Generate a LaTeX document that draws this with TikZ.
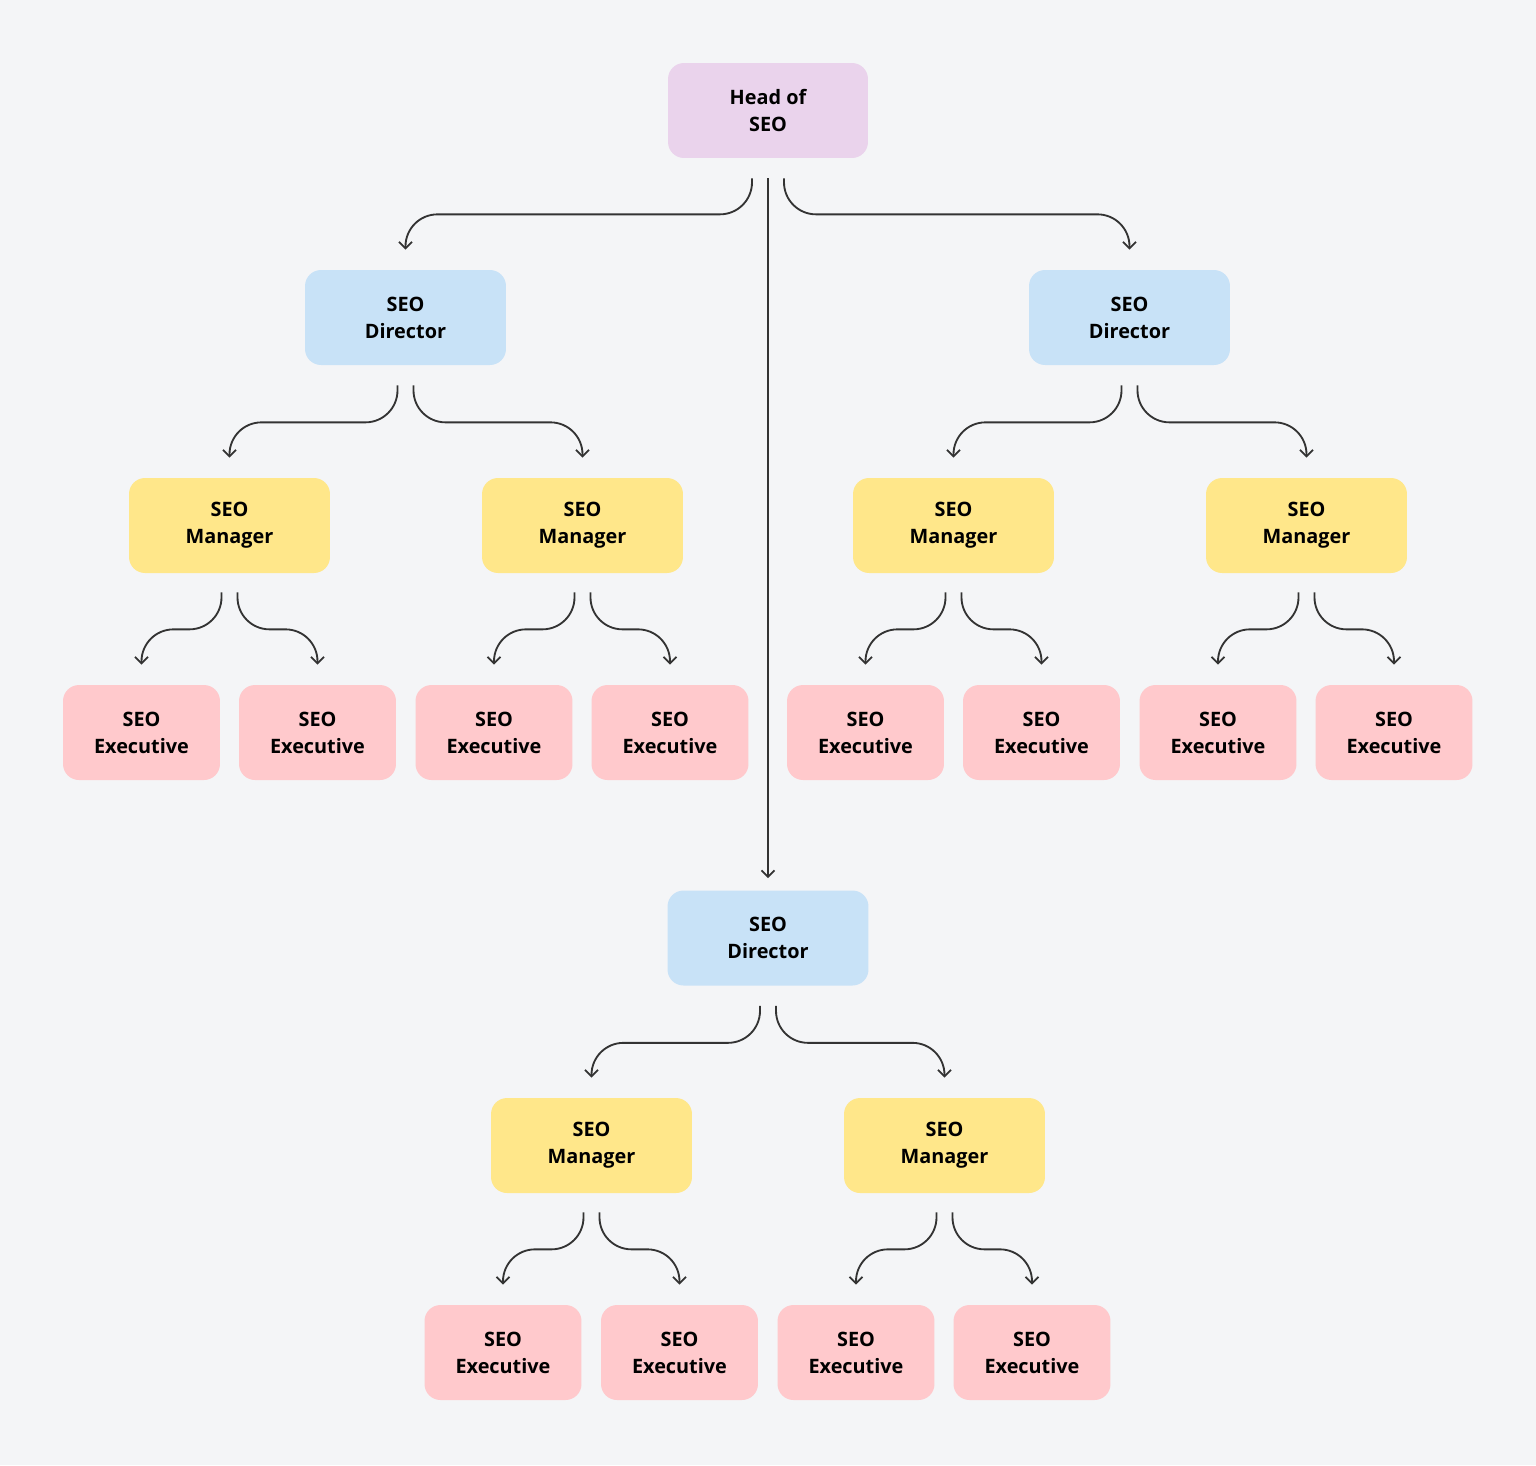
\documentclass[tikz,border=0pt]{standalone}
\usepackage{fontspec}
\setmainfont{Open Sans}
\usetikzlibrary{
    positioning,
    arrows.meta,
    calc
}
\definecolor{bgcol}{HTML}{F4F5F7}
\definecolor{headcol}{HTML}{EAD3EC}
\definecolor{dircol}{HTML}{C8E2F7}
\definecolor{mgrcol}{HTML}{FFE78A}
\definecolor{execol}{HTML}{FFC9CC}
\definecolor{linecol}{HTML}{333333}

\begin{document}
\begin{tikzpicture}[
    x=0.02cm, y=-0.02cm,
    every node/.style={font=\fontsize{11.3}{15.4}\selectfont\bfseries, text=black},
    box/.style={
        rectangle,
        rounded corners=0.32cm,
        align=center,
        minimum height=1.9cm,
        inner sep=0pt
    },
    head/.style={box, fill=headcol, minimum width=4cm},
    director/.style={box, fill=dircol, minimum width=4.02cm},
    manager/.style={box, fill=mgrcol, minimum width=4.02cm},
    exec/.style={box, fill=execol, minimum width=3.14cm},
    link/.style={-{Straight Barb[length=1.3mm, width=2.6mm]}, line width=1.05pt,
        draw=linecol, rounded corners=0.64cm}
]

% ---------- Background ----------
\fill[bgcol] (0,0) rectangle (1536,1465);

% ---------- Top ----------
\node[head] (hd) at (768,110.5) {Head of\\SEO};

% ---------- Directors ----------
\node[director] (dl) at (405.5,317.5) {SEO\\Director};
\node[director] (dr) at (1129.5,317.5) {SEO\\Director};
\node[director] (db) at (768,938) {SEO\\Director};

% ---------- Managers ----------
\node[manager] (m1) at (229.5,525.5) {SEO\\Manager};
\node[manager] (m2) at (582.5,525.5) {SEO\\Manager};
\node[manager] (m3) at (953.5,525.5) {SEO\\Manager};
\node[manager] (m4) at (1306.5,525.5) {SEO\\Manager};
\node[manager] (m5) at (591.5,1145.5) {SEO\\Manager};
\node[manager] (m6) at (944.5,1145.5) {SEO\\Manager};

% ---------- Executives ----------
\node[exec] (e1) at (141.5,732.5) {SEO\\Executive};
\node[exec] (e2) at (317.5,732.5) {SEO\\Executive};
\node[exec] (e3) at (494,732.5) {SEO\\Executive};
\node[exec] (e4) at (670,732.5) {SEO\\Executive};
\node[exec] (e5) at (865.5,732.5) {SEO\\Executive};
\node[exec] (e6) at (1041.5,732.5) {SEO\\Executive};
\node[exec] (e7) at (1218,732.5) {SEO\\Executive};
\node[exec] (e8) at (1394,732.5) {SEO\\Executive};
\node[exec] (e9) at (503,1352.5) {SEO\\Executive};
\node[exec] (e10) at (679.5,1352.5) {SEO\\Executive};
\node[exec] (e11) at (856,1352.5) {SEO\\Executive};
\node[exec] (e12) at (1032,1352.5) {SEO\\Executive};

% ---------- Head to directors ----------
\draw[link] ($(hd.south)+(-16,20)$) -- ++(0,36) -| ($(dl.north)+(0,-20)$);
\draw[link] ($(hd.south)+(16,20)$) -- ++(0,36) -| ($(dr.north)+(0,-20)$);
\draw[link] ($(hd.south)+(0,20)$) -- ($(db.north)+(0,-12)$);

% ---------- Directors to managers ----------
\foreach \p/\a/\b in {dl/m1/m2, dr/m3/m4, db/m5/m6}{
    \draw[link] ($(\p.south)+(-8,20)$) -- ++(0,37) -| ($(\a.north)+(0,-20)$);
    \draw[link] ($(\p.south)+(8,20)$) -- ++(0,37) -| ($(\b.north)+(0,-20)$);
}

% ---------- Managers to executives ----------
\foreach \p/\a/\b in {m1/e1/e2, m2/e3/e4, m3/e5/e6, m4/e7/e8, m5/e9/e10, m6/e11/e12}{
    \draw[link] ($(\p.south)+(-8,19)$) -- ++(0,37) -| ($(\a.north)+(0,-20)$);
    \draw[link] ($(\p.south)+(8,19)$) -- ++(0,37) -| ($(\b.north)+(0,-20)$);
}

\end{tikzpicture}
\end{document}
